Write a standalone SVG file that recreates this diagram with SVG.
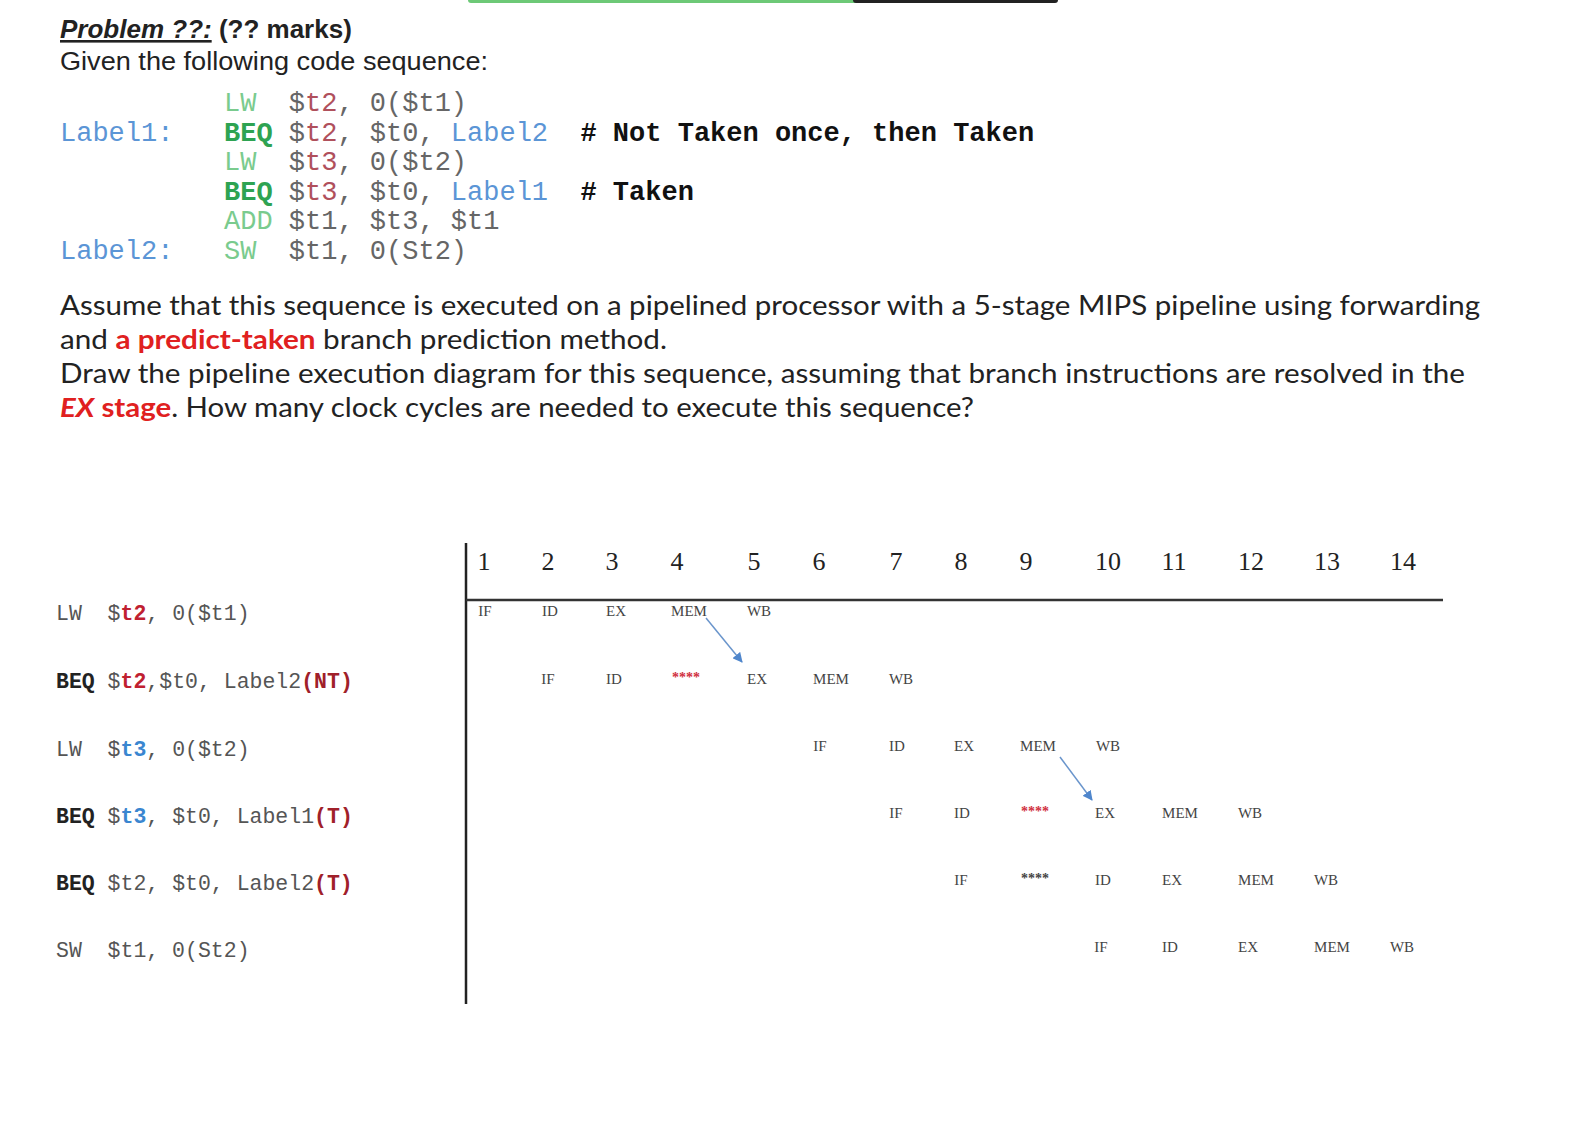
<svg xmlns="http://www.w3.org/2000/svg" width="1579" height="1137" viewBox="0 0 1579 1137">
<defs>
<style>
.hd{font-family:"Liberation Sans",Arial,sans-serif;fill:#222}
.para{font-family:Lato,"Open Sans",sans-serif;font-size:27px;fill:#222}
.red{fill:#e02020;font-weight:bold}
.code{font-family:"Liberation Mono","Courier New",monospace;font-size:27px;fill:#666}
.code text,.ins text{white-space:pre}
.op{fill:#7acb8e}
.opb{fill:#2ea352;font-weight:bold}
.lab{fill:#5b95d6}
.rr{fill:#b0505c}
.cm{fill:#111;font-weight:bold}
.num{font-family:"Liberation Serif","Times New Roman",serif;font-size:26px;fill:#222;text-anchor:middle}
.st{font-family:"Liberation Serif","Times New Roman",serif;font-size:15px;fill:#444;text-anchor:middle}
.stall{font-family:"Liberation Serif",serif;font-size:14px;fill:#d03040;text-anchor:middle;font-weight:bold}
.stallg{font-family:"Liberation Serif",serif;font-size:14px;fill:#444;text-anchor:middle;font-weight:bold}
.ins{font-family:"Liberation Mono","Courier New",monospace;font-size:21.5px;fill:#555}
.b{font-weight:bold;fill:#222}
.br{font-weight:bold;fill:#c02030}
.bb{font-weight:bold;fill:#3a86d0}
.bdr{font-weight:bold;fill:#a0202a}
.fw{stroke:#6a95cc;stroke-width:1.5;fill:none}
</style>
<marker id="ah" viewBox="0 0 10 10" refX="9" refY="5" markerWidth="10" markerHeight="10" markerUnits="userSpaceOnUse" orient="auto">
<path d="M0,0 L10,5 L0,10 z" fill="#4f86cc"/>
</marker>
</defs>
<rect width="1579" height="1137" fill="#ffffff"/>
<g id="topbar">
<rect x="468" y="-4" width="390" height="7" rx="3" fill="#6dc977"/>
<rect x="853" y="-4" width="205" height="7" rx="3" fill="#222"/>
</g>
<g id="heading">
<text x="60" y="38" class="hd" font-size="26" font-weight="bold"><tspan font-style="italic" text-decoration="underline">Problem ??:</tspan> (?? marks)</text>
<text x="60" y="70" class="hd" font-size="25" textLength="428" lengthAdjust="spacingAndGlyphs">Given the following code sequence:</text>
</g>
<g id="code" class="code">
<text x="224" y="111" xml:space="preserve"><tspan class="op">LW</tspan>  $<tspan class="rr">t2</tspan>, 0($t1)</text>
<text x="60" y="141"><tspan class="lab">Label1:</tspan></text>
<text x="224" y="141" xml:space="preserve"><tspan class="opb">BEQ</tspan> $<tspan class="rr">t2</tspan>, $t0, <tspan class="lab">Label2</tspan>  <tspan class="cm"># Not Taken once, then Taken</tspan></text>
<text x="224" y="170" xml:space="preserve"><tspan class="op">LW</tspan>  $<tspan class="rr">t3</tspan>, 0($t2)</text>
<text x="224" y="200" xml:space="preserve"><tspan class="opb">BEQ</tspan> $<tspan class="rr">t3</tspan>, $t0, <tspan class="lab">Label1</tspan>  <tspan class="cm"># Taken</tspan></text>
<text x="224" y="229" xml:space="preserve"><tspan class="op">ADD</tspan> $t1, $t3, $t1</text>
<text x="60" y="259"><tspan class="lab">Label2:</tspan></text>
<text x="224" y="259" xml:space="preserve"><tspan class="op">SW</tspan>  $t1, 0(St2)</text>
</g>
<g id="paragraph" class="para">
<text x="60" y="315" textLength="1420" lengthAdjust="spacingAndGlyphs">Assume that this sequence is executed on a pipelined processor with a 5-stage MIPS pipeline using forwarding</text>
<text x="60" y="349" textLength="607" lengthAdjust="spacingAndGlyphs">and <tspan class="red">a predict-taken</tspan> branch prediction method.</text>
<text x="60" y="383" textLength="1405" lengthAdjust="spacingAndGlyphs">Draw the pipeline execution diagram for this sequence, assuming that branch instructions are resolved in the</text>
<text x="60" y="417" textLength="914" lengthAdjust="spacingAndGlyphs"><tspan class="red" font-style="italic">EX</tspan><tspan class="red"> stage</tspan>. How many clock cycles are needed to execute this sequence?</text>
</g>
<g id="axes">
<line x1="466" y1="543" x2="466" y2="1004" stroke="#222" stroke-width="2.5"/>
<line x1="466" y1="600" x2="1443" y2="600" stroke="#333" stroke-width="2.5"/>
</g>
<g id="cycles" class="num">
<text x="484" y="570">1</text><text x="548" y="570">2</text><text x="612" y="570">3</text><text x="677" y="570">4</text><text x="754" y="570">5</text><text x="819" y="570">6</text><text x="896" y="570">7</text><text x="961" y="570">8</text><text x="1026" y="570">9</text><text x="1108" y="570">10</text><text x="1174" y="570">11</text><text x="1251" y="570">12</text><text x="1327" y="570">13</text><text x="1403" y="570">14</text>
</g>
<g id="labels" class="ins">
<text x="56" y="620" xml:space="preserve">LW  $<tspan class="br">t2</tspan>, 0($t1)</text>
<text x="56" y="688" xml:space="preserve"><tspan class="b">BEQ</tspan> $<tspan class="br">t2</tspan>,$t0, Label2<tspan class="bdr">(NT)</tspan></text>
<text x="56" y="756" xml:space="preserve">LW  $<tspan class="bb">t3</tspan>, 0($t2)</text>
<text x="56" y="823" xml:space="preserve"><tspan class="b">BEQ</tspan> $<tspan class="bb">t3</tspan>, $t0, Label1<tspan class="bdr">(T)</tspan></text>
<text x="56" y="890" xml:space="preserve"><tspan class="b">BEQ</tspan> $t2, $t0, Label2<tspan class="bdr">(T)</tspan></text>
<text x="56" y="957" xml:space="preserve">SW  $t1, 0(St2)</text>
</g>
<g id="row1" class="st">
<text x="485" y="616">IF</text><text x="550" y="616">ID</text><text x="616" y="616">EX</text><text x="689" y="616">MEM</text><text x="759" y="616">WB</text>
</g>
<g id="row2" class="st">
<text x="548" y="684">IF</text><text x="614" y="684">ID</text><text x="686" y="682" class="stall">****</text><text x="757" y="684">EX</text><text x="831" y="684">MEM</text><text x="901" y="684">WB</text>
</g>
<g id="row3" class="st">
<text x="820" y="751">IF</text><text x="897" y="751">ID</text><text x="964" y="751">EX</text><text x="1038" y="751">MEM</text><text x="1108" y="751">WB</text>
</g>
<g id="row4" class="st">
<text x="896" y="818">IF</text><text x="962" y="818">ID</text><text x="1035" y="816" class="stall">****</text><text x="1105" y="818">EX</text><text x="1180" y="818">MEM</text><text x="1250" y="818">WB</text>
</g>
<g id="row5" class="st">
<text x="961" y="885">IF</text><text x="1035" y="883" class="stallg">****</text><text x="1103" y="885">ID</text><text x="1172" y="885">EX</text><text x="1256" y="885">MEM</text><text x="1326" y="885">WB</text>
</g>
<g id="row6" class="st">
<text x="1101" y="952">IF</text><text x="1170" y="952">ID</text><text x="1248" y="952">EX</text><text x="1332" y="952">MEM</text><text x="1402" y="952">WB</text>
</g>
<g id="connectors">
<line class="fw" x1="706" y1="618" x2="742" y2="662" marker-end="url(#ah)"/>
<line class="fw" x1="1060" y1="757" x2="1092" y2="800" marker-end="url(#ah)"/>
</g>
</svg>
